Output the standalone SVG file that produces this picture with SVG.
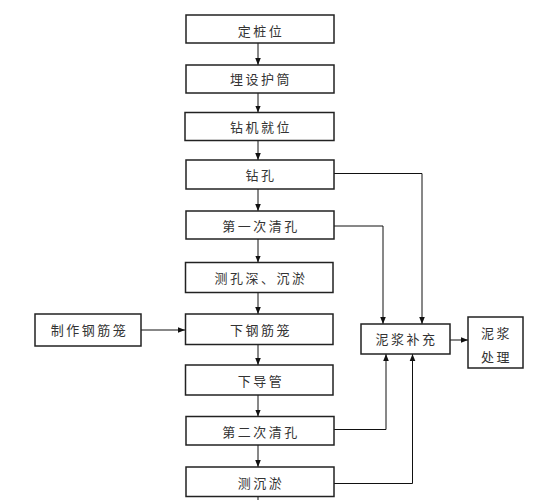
<svg xmlns="http://www.w3.org/2000/svg" width="545" height="500" viewBox="0 0 545 500">
<style>
.box{fill:#fff;stroke:#222;stroke-width:1.5}
.t{font-family:"Liberation Sans","Noto Sans CJK SC",sans-serif;font-size:13px;fill:#333;text-anchor:middle;letter-spacing:2.5px}
.c{fill:none;stroke:#111;stroke-width:1}
</style>
<defs>
<marker id="ah" viewBox="0 0 10 10" refX="10" refY="5" markerWidth="7" markerHeight="7" markerUnits="userSpaceOnUse" orient="auto">
<path d="M0,1 L10,5 L0,9 Z" fill="#111"/>
</marker>
</defs>
<rect width="545" height="500" fill="#fff"/>
<g id="connectors">
<line class="c" x1="258" y1="43" x2="258" y2="65" marker-end="url(#ah)"/>
<line class="c" x1="258" y1="93" x2="258" y2="112.5" marker-end="url(#ah)"/>
<line class="c" x1="258" y1="140.5" x2="258" y2="160" marker-end="url(#ah)"/>
<line class="c" x1="258" y1="189" x2="258" y2="211" marker-end="url(#ah)"/>
<line class="c" x1="258" y1="239" x2="258" y2="262.5" marker-end="url(#ah)"/>
<line class="c" x1="258" y1="292.5" x2="258" y2="314" marker-end="url(#ah)"/>
<line class="c" x1="258" y1="344.5" x2="258" y2="365" marker-end="url(#ah)"/>
<line class="c" x1="258" y1="395" x2="258" y2="416.5" marker-end="url(#ah)"/>
<line class="c" x1="258" y1="445" x2="258" y2="467" marker-end="url(#ah)"/>
<line class="c" x1="258" y1="496.5" x2="258" y2="500"/>
<line class="c" x1="141" y1="330" x2="185" y2="330" marker-end="url(#ah)"/>
<polyline class="c" points="334,173.5 422,173.5 422,324" marker-end="url(#ah)"/>
<polyline class="c" points="334,226 383,226 383,324" marker-end="url(#ah)"/>
<polyline class="c" points="334,429.5 386,429.5 386,354" marker-end="url(#ah)"/>
<polyline class="c" points="334,483.5 412.5,483.5 412.5,354" marker-end="url(#ah)"/>
<line class="c" x1="450" y1="340" x2="468" y2="340" marker-end="url(#ah)"/>
</g>
<g id="n1"><rect class="box" x="186" y="15" width="148" height="28"/><text class="t" x="261" y="36">定桩位</text></g>
<g id="n2"><rect class="box" x="186" y="65" width="148" height="28"/><text class="t" x="261" y="84">埋设护筒</text></g>
<g id="n3"><rect class="box" x="185" y="112.5" width="149" height="28"/><text class="t" x="261" y="132">钻机就位</text></g>
<g id="n4"><rect class="box" x="186" y="160" width="148" height="29"/><text class="t" x="261" y="180">钻孔</text></g>
<g id="n5"><rect class="box" x="186" y="211" width="148" height="28"/><text class="t" x="261" y="231">第一次清孔</text></g>
<g id="n6"><rect class="box" x="185.5" y="262.5" width="147.5" height="30"/><text class="t" x="261" y="283">测孔深、沉淤</text></g>
<g id="n7"><rect class="box" x="185.5" y="314" width="147.5" height="30.5"/><text class="t" x="261" y="335">下钢筋笼</text></g>
<g id="n8"><rect class="box" x="185.5" y="365" width="147.5" height="30"/><text class="t" x="261" y="386">下导管</text></g>
<g id="n9"><rect class="box" x="186" y="416.5" width="148" height="28.5"/><text class="t" x="261" y="437">第二次清孔</text></g>
<g id="n10"><rect class="box" x="186" y="467" width="148" height="29.5"/><text class="t" x="261" y="488">测沉淤</text></g>
<g id="n11"><rect class="box" x="35" y="314" width="106" height="32"/><text class="t" x="89.5" y="335">制作钢筋笼</text></g>
<g id="n12"><rect class="box" x="361" y="324" width="89" height="30"/><text class="t" x="406.5" y="344">泥浆补充</text></g>
<g id="n13"><rect class="box" x="468" y="317" width="55" height="51"/><text class="t" x="496.5" y="338">泥浆</text><text class="t" x="496.5" y="362">处理</text></g>
</svg>
